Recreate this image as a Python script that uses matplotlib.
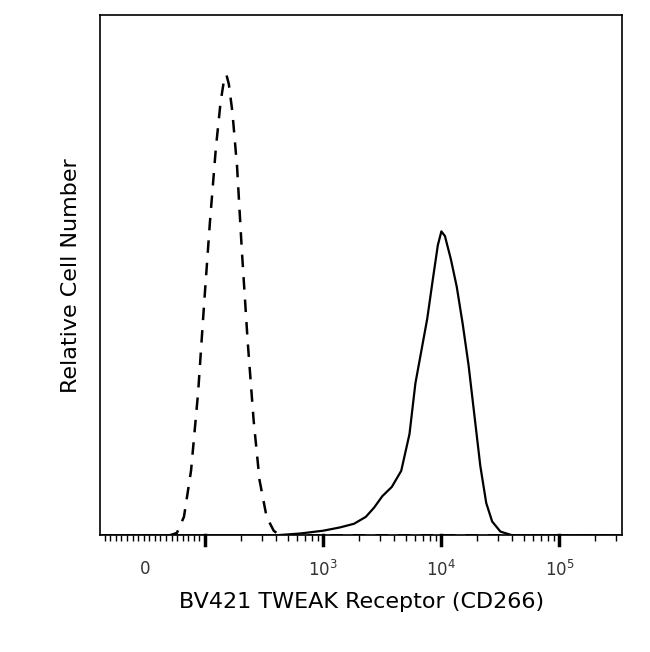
import numpy as np
import matplotlib
matplotlib.use("Agg")
import matplotlib.pyplot as plt

# axis coordinate u: 10^k -> k (k>=2), 0 -> ~1.5 (biexponential display)
dash_u = [1.11, 1.70, 1.76, 1.82, 1.88, 1.94, 1.99, 2.04, 2.09, 2.13, 2.16, 2.18, 2.20, 2.23, 2.27, 2.31, 2.36, 2.41, 2.46, 2.52, 2.58, 2.63, 5.53]
dash_y = [0, 0, 0.005, 0.04, 0.14, 0.31, 0.50, 0.68, 0.84, 0.94, 0.99, 1.0, 0.98, 0.92, 0.80, 0.62, 0.42, 0.25, 0.12, 0.04, 0.01, 0, 0]
solid_u = [1.11, 2.60, 2.81, 3.00, 3.14, 3.26, 3.36, 3.43, 3.50, 3.58, 3.66, 3.73, 3.78, 3.83, 3.88, 3.93, 3.97, 4.00, 4.03, 4.08, 4.13, 4.18, 4.23, 4.28, 4.33, 4.38, 4.43, 4.50, 4.60, 5.53]
solid_y = [0, 0, 0.004, 0.010, 0.017, 0.025, 0.040, 0.060, 0.085, 0.105, 0.14, 0.22, 0.33, 0.40, 0.47, 0.56, 0.63, 0.66, 0.65, 0.60, 0.54, 0.46, 0.37, 0.26, 0.15, 0.07, 0.03, 0.008, 0, 0]
tick_pos = [1.49, 3, 4, 5]
tick_lab = ["0", "$10^3$", "$10^4$", "$10^5$"]

fig = plt.figure(figsize=(6.5, 6.52), dpi=100)
ax = fig.add_axes([0.154, 0.179, 0.803, 0.798])
ax.plot(solid_u, solid_y, color="black", lw=1.6)
ax.plot(dash_u, dash_y, color="black", lw=1.8, ls=(0, (5, 4)))
ax.set_xlim(1.11, 5.53)
ax.set_ylim(0, 1.13)
ax.set_yticks([])
ax.set_xticks(tick_pos)
ax.set_xticklabels(tick_lab, fontsize=12, color="#333333")
minor = []
for k in [2, 3, 4, 5]:
    for m in range(1, 10):
        v = k + np.log10(m)
        if v < 5.53:
            minor.append(v)
minor += list(np.linspace(1.15, 1.95, 18))
ax.set_xticks(minor, minor=True)
ax.tick_params(axis="x", which="major", length=0, pad=18)
ax.tick_params(axis="x", which="minor", length=4, width=1)
for k in [2, 3, 4, 5]:
    ax.plot([k, k], [0, -0.022], color="black", lw=2.5, clip_on=False)
for s in ax.spines.values():
    s.set_linewidth(1.2)
ax.set_xlabel("BV421 TWEAK Receptor (CD266)", fontsize=16, labelpad=8)
ax.set_ylabel("Relative Cell Number", fontsize=16, labelpad=14)
fig.savefig("out.png", dpi=100)
